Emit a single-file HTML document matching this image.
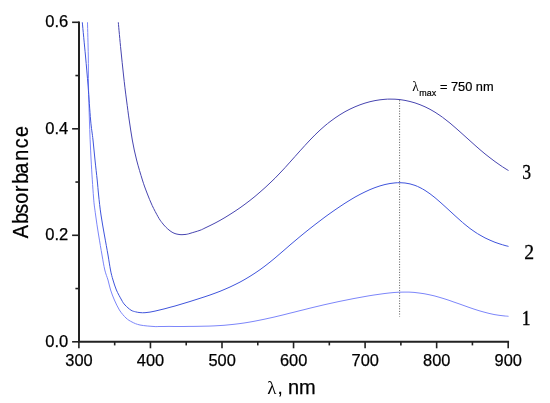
<!DOCTYPE html>
<html><head><meta charset="utf-8"><title>Absorbance</title>
<style>
html,body{margin:0;padding:0;background:#fff;}
svg{display:block;}
text{font-family:"Liberation Sans",sans-serif;fill:#000;}
.s{font-family:"Liberation Serif",serif;}
</style></head><body>
<svg width="550" height="403" viewBox="0 0 550 403">
<rect width="550" height="403" fill="#fff"/>
<g fill="none" stroke-width="1" stroke-linejoin="round">
<path stroke="#7c86fa" d="M87.5 22.3C87.6 27.9 88.1 45.4 88.3 56.0C88.5 66.6 88.3 75.3 88.5 86.0C88.7 96.7 89.0 107.7 89.4 120.0C89.8 132.3 90.4 147.2 91.1 160.0C91.8 172.8 92.8 187.8 93.5 197.0C94.2 206.2 94.8 208.7 95.6 215.0C96.4 221.3 97.5 228.3 98.6 235.0C99.7 241.7 101.0 249.2 102.0 255.0C103.0 260.8 103.8 265.8 104.8 270.0C105.8 274.2 107.0 276.7 108.0 280.0C109.0 283.3 109.5 286.7 110.6 290.0C111.7 293.3 112.9 296.7 114.4 300.0C115.9 303.3 117.5 307.0 119.4 310.0C121.3 313.0 123.9 316.0 126.0 318.0C128.1 320.0 129.7 320.8 132.0 322.0C134.3 323.2 136.3 324.2 140.0 325.0C143.7 325.8 150.8 326.3 154.0 326.5C157.2 326.8 157.3 326.5 159.0 326.5C160.7 326.5 162.3 326.5 164.0 326.5C165.7 326.4 167.3 326.4 169.0 326.4C170.7 326.4 172.3 326.5 174.0 326.5C175.7 326.5 177.3 326.5 179.0 326.5C180.7 326.5 182.3 326.5 184.0 326.5C185.7 326.5 187.3 326.5 189.0 326.4C190.7 326.4 192.3 326.4 194.0 326.4C195.7 326.4 197.3 326.4 199.0 326.3C200.7 326.3 202.3 326.3 204.0 326.2C205.7 326.2 207.3 326.1 209.0 326.1C210.7 326.0 212.3 326.0 214.0 325.9C215.7 325.8 217.3 325.7 219.0 325.6C220.7 325.5 222.3 325.4 224.0 325.3C225.7 325.1 227.3 325.0 229.0 324.8C230.7 324.7 232.3 324.5 234.0 324.3C235.7 324.1 237.3 323.9 239.0 323.7C240.7 323.5 242.3 323.3 244.0 323.0C245.7 322.8 247.3 322.5 249.0 322.2C250.7 321.9 252.3 321.6 254.0 321.3C255.7 321.0 257.3 320.7 259.0 320.3C260.7 320.0 262.3 319.7 264.0 319.3C265.7 318.9 267.3 318.6 269.0 318.2C270.7 317.8 272.3 317.4 274.0 317.1C275.7 316.7 277.3 316.3 279.0 315.9C280.7 315.5 282.3 315.1 284.0 314.7C285.7 314.2 287.3 313.8 289.0 313.4C290.7 313.0 292.3 312.6 294.0 312.2C295.7 311.7 297.3 311.3 299.0 310.9C300.7 310.5 302.3 310.1 304.0 309.7C305.7 309.2 307.3 308.8 309.0 308.4C310.7 308.0 312.3 307.6 314.0 307.2C315.7 306.8 317.3 306.4 319.0 306.0C320.7 305.6 322.3 305.2 324.0 304.8C325.7 304.4 327.3 304.1 329.0 303.7C330.7 303.3 332.3 302.9 334.0 302.6C335.7 302.2 337.3 301.8 339.0 301.5C340.7 301.1 342.3 300.8 344.0 300.5C345.7 300.1 347.3 299.8 349.0 299.5C350.7 299.1 352.3 298.8 354.0 298.5C355.7 298.2 357.3 297.9 359.0 297.6C360.7 297.3 362.3 297.0 364.0 296.7C365.7 296.4 367.3 296.1 369.0 295.8C370.7 295.6 372.3 295.3 374.0 295.0C375.7 294.8 377.3 294.5 379.0 294.3C380.7 294.0 382.3 293.8 384.0 293.6C385.7 293.3 387.3 293.1 389.0 293.0C390.7 292.8 392.3 292.6 394.0 292.5C395.7 292.4 397.3 292.3 399.0 292.2C400.7 292.1 402.3 292.1 404.0 292.1C405.7 292.1 407.3 292.1 409.0 292.1C410.7 292.2 412.3 292.3 414.0 292.4C415.7 292.6 417.3 292.8 419.0 293.0C420.7 293.2 422.3 293.4 424.0 293.7C425.7 294.0 427.3 294.3 429.0 294.7C430.7 295.0 432.3 295.4 434.0 295.8C435.7 296.2 437.3 296.7 439.0 297.2C440.7 297.6 442.3 298.1 444.0 298.7C445.7 299.2 447.3 299.8 449.0 300.3C450.7 300.9 452.3 301.5 454.0 302.1C455.7 302.6 457.3 303.2 459.0 303.8C460.7 304.4 462.3 305.0 464.0 305.6C465.7 306.2 467.3 306.8 469.0 307.4C470.7 308.0 472.3 308.6 474.0 309.1C475.7 309.7 477.3 310.2 479.0 310.7C480.7 311.2 482.3 311.7 484.0 312.1C485.7 312.6 487.3 313.0 489.0 313.4C490.7 313.8 492.3 314.1 494.0 314.5C495.7 314.8 497.3 315.1 499.0 315.3C500.7 315.6 502.4 315.8 504.0 315.9C505.6 316.1 507.8 316.2 508.5 316.3"/>
<path stroke="#3f54dc" d="M82.3 22.3C82.8 27.9 84.5 45.4 85.5 56.0C86.5 66.6 87.2 75.3 88.1 86.0C88.9 96.7 89.8 111.0 90.6 120.0C91.4 129.0 92.3 133.3 93.0 140.0C93.7 146.7 94.3 153.3 95.0 160.0C95.7 166.7 96.6 174.2 97.2 180.0C97.8 185.8 98.0 189.2 98.6 195.0C99.2 200.8 100.0 208.3 101.0 215.0C102.0 221.7 103.2 228.3 104.4 235.0C105.6 241.7 107.0 249.2 108.0 255.0C109.0 260.8 109.7 265.8 110.5 270.0C111.3 274.2 112.0 276.7 113.0 280.0C114.0 283.3 115.0 286.7 116.4 290.0C117.8 293.3 120.2 297.5 121.6 300.0C123.0 302.5 123.4 303.3 125.0 305.0C126.6 306.7 129.2 309.1 131.0 310.2C132.8 311.3 134.0 311.4 135.5 311.8C137.0 312.2 138.4 312.5 140.0 312.6C141.6 312.8 143.3 312.8 145.0 312.7C146.7 312.6 148.3 312.4 150.0 312.1C151.7 311.8 153.3 311.4 155.0 311.1C156.7 310.7 158.3 310.3 160.0 309.9C161.7 309.5 163.3 309.1 165.0 308.7C166.7 308.2 168.3 307.8 170.0 307.3C171.7 306.9 173.3 306.4 175.0 306.0C176.7 305.5 178.3 305.0 180.0 304.5C181.7 304.0 183.3 303.5 185.0 303.0C186.7 302.5 188.3 302.0 190.0 301.5C191.7 301.0 193.3 300.5 195.0 299.9C196.7 299.4 198.3 298.9 200.0 298.3C201.7 297.8 203.3 297.3 205.0 296.7C206.7 296.1 208.3 295.6 210.0 295.0C211.7 294.4 213.3 293.8 215.0 293.2C216.7 292.6 218.3 291.9 220.0 291.3C221.7 290.6 223.3 289.9 225.0 289.2C226.7 288.5 228.3 287.8 230.0 287.0C231.7 286.2 233.3 285.4 235.0 284.6C236.7 283.8 238.3 282.9 240.0 282.1C241.7 281.2 243.3 280.2 245.0 279.3C246.7 278.3 248.3 277.3 250.0 276.3C251.7 275.3 253.3 274.2 255.0 273.1C256.7 272.0 258.3 270.8 260.0 269.7C261.7 268.5 263.3 267.3 265.0 266.0C266.7 264.7 268.3 263.4 270.0 262.1C271.7 260.8 273.3 259.4 275.0 258.0C276.7 256.6 278.3 255.2 280.0 253.7C281.7 252.3 283.3 250.8 285.0 249.4C286.7 247.9 288.3 246.5 290.0 245.0C291.7 243.6 293.3 242.2 295.0 240.8C296.7 239.4 298.3 238.0 300.0 236.6C301.7 235.2 303.3 233.9 305.0 232.5C306.7 231.2 308.3 229.8 310.0 228.5C311.7 227.2 313.3 225.9 315.0 224.6C316.7 223.3 318.3 222.0 320.0 220.8C321.7 219.5 323.3 218.3 325.0 217.0C326.7 215.8 328.3 214.6 330.0 213.4C331.7 212.2 333.3 211.0 335.0 209.9C336.7 208.7 338.3 207.6 340.0 206.5C341.7 205.3 343.3 204.2 345.0 203.2C346.7 202.1 348.3 201.1 350.0 200.1C351.7 199.1 353.3 198.1 355.0 197.1C356.7 196.2 358.3 195.3 360.0 194.4C361.7 193.5 363.3 192.7 365.0 191.9C366.7 191.1 368.3 190.3 370.0 189.6C371.7 188.9 373.3 188.3 375.0 187.6C376.7 187.0 378.3 186.5 380.0 185.9C381.7 185.4 383.3 184.9 385.0 184.5C386.7 184.1 388.3 183.8 390.0 183.5C391.7 183.2 393.3 183.0 395.0 182.9C396.7 182.7 398.3 182.7 400.0 182.7C401.7 182.7 403.3 182.8 405.0 183.0C406.7 183.3 408.3 183.5 410.0 183.9C411.7 184.3 413.3 184.8 415.0 185.4C416.7 186.0 418.3 186.8 420.0 187.6C421.7 188.4 423.3 189.4 425.0 190.4C426.7 191.5 428.3 192.6 430.0 193.8C431.7 195.1 433.3 196.4 435.0 197.7C436.7 199.1 438.3 200.5 440.0 202.0C441.7 203.4 443.3 205.0 445.0 206.5C446.7 208.0 448.3 209.6 450.0 211.1C451.7 212.6 453.3 214.2 455.0 215.7C456.7 217.2 458.3 218.8 460.0 220.2C461.7 221.7 463.3 223.2 465.0 224.5C466.7 225.9 468.3 227.2 470.0 228.5C471.7 229.7 473.3 230.9 475.0 232.0C476.7 233.1 478.3 234.2 480.0 235.1C481.7 236.1 483.3 237.0 485.0 237.9C486.7 238.7 488.3 239.5 490.0 240.2C491.7 241.0 493.3 241.6 495.0 242.3C496.7 242.9 498.3 243.5 500.0 244.0C501.7 244.5 503.6 245.1 505.0 245.5C506.4 245.9 507.9 246.2 508.5 246.4"/>
<path stroke="#4745b0" d="M118.3 22.3C118.7 26.9 120.0 41.2 120.9 50.0C121.8 58.8 122.6 66.7 123.5 75.0C124.4 83.3 125.5 92.5 126.5 100.0C127.5 107.5 128.2 113.3 129.2 120.0C130.2 126.7 131.1 133.3 132.3 140.0C133.5 146.7 134.9 153.3 136.6 160.0C138.3 166.7 140.7 174.5 142.4 180.0C144.1 185.5 145.4 188.8 147.0 193.0C148.6 197.2 150.4 201.6 152.2 205.5C154.0 209.4 156.4 213.8 158.0 216.7C159.6 219.6 160.7 221.0 162.0 222.7C163.3 224.4 164.3 225.6 165.6 226.9C166.9 228.2 168.6 229.8 170.0 230.8C171.4 231.9 172.7 232.6 174.0 233.2C175.3 233.8 176.7 234.1 178.0 234.3C179.3 234.6 180.7 234.7 182.0 234.7C183.3 234.7 184.7 234.6 186.0 234.4C187.3 234.2 187.7 234.1 190.0 233.4C192.3 232.7 197.5 231.2 200.0 230.3C202.5 229.4 203.3 228.8 205.0 228.0C206.7 227.3 208.3 226.5 210.0 225.6C211.7 224.8 213.3 224.0 215.0 223.1C216.7 222.2 218.3 221.3 220.0 220.4C221.7 219.4 223.3 218.5 225.0 217.5C226.7 216.5 228.3 215.5 230.0 214.4C231.7 213.4 233.3 212.3 235.0 211.2C236.7 210.1 238.3 209.0 240.0 207.8C241.7 206.6 243.3 205.4 245.0 204.2C246.7 202.9 248.3 201.7 250.0 200.4C251.7 199.1 253.3 197.7 255.0 196.4C256.7 195.0 258.3 193.6 260.0 192.1C261.7 190.7 263.3 189.2 265.0 187.7C266.7 186.2 268.3 184.6 270.0 183.0C271.7 181.5 273.3 179.8 275.0 178.2C276.7 176.5 278.3 174.8 280.0 173.0C281.7 171.3 283.3 169.5 285.0 167.7C286.7 165.9 288.3 164.0 290.0 162.1C291.7 160.3 293.3 158.4 295.0 156.5C296.7 154.7 298.3 152.8 300.0 150.9C301.7 149.1 303.3 147.2 305.0 145.4C306.7 143.6 308.3 141.8 310.0 140.0C311.7 138.3 313.3 136.6 315.0 134.9C316.7 133.3 318.3 131.7 320.0 130.1C321.7 128.6 323.3 127.1 325.0 125.7C326.7 124.3 328.3 122.9 330.0 121.7C331.7 120.4 333.3 119.2 335.0 118.0C336.7 116.8 338.3 115.7 340.0 114.7C341.7 113.7 343.3 112.7 345.0 111.7C346.7 110.8 348.3 109.9 350.0 109.1C351.7 108.3 353.3 107.5 355.0 106.8C356.7 106.1 358.3 105.4 360.0 104.8C361.7 104.2 363.3 103.6 365.0 103.1C366.7 102.6 368.3 102.1 370.0 101.7C371.7 101.3 373.3 100.9 375.0 100.6C376.7 100.3 378.3 100.0 380.0 99.8C381.7 99.6 383.3 99.4 385.0 99.3C386.7 99.1 388.3 99.1 390.0 99.1C391.7 99.1 393.3 99.1 395.0 99.2C396.7 99.3 398.3 99.4 400.0 99.6C401.7 99.8 403.3 100.1 405.0 100.4C406.7 100.7 408.3 101.1 410.0 101.5C411.7 101.9 413.3 102.4 415.0 102.9C416.7 103.4 418.3 104.0 420.0 104.7C421.7 105.3 423.3 106.1 425.0 106.8C426.7 107.6 428.3 108.4 430.0 109.3C431.7 110.2 433.3 111.2 435.0 112.2C436.7 113.2 438.3 114.3 440.0 115.5C441.7 116.6 443.3 117.9 445.0 119.2C446.7 120.4 448.3 121.8 450.0 123.1C451.7 124.5 453.3 125.9 455.0 127.4C456.7 128.8 458.3 130.3 460.0 131.8C461.7 133.3 463.3 134.8 465.0 136.3C466.7 137.8 468.3 139.3 470.0 140.8C471.7 142.3 473.3 143.8 475.0 145.3C476.7 146.8 478.3 148.2 480.0 149.7C481.7 151.1 483.3 152.5 485.0 153.9C486.7 155.2 488.3 156.6 490.0 157.8C491.7 159.1 493.3 160.4 495.0 161.6C496.7 162.8 498.3 164.0 500.0 165.1C501.7 166.3 503.6 167.5 505.0 168.4C506.4 169.3 507.9 170.2 508.5 170.5"/>
</g>
<line x1="399.6" y1="100.3" x2="399.6" y2="316.6" stroke="#555" stroke-width="1" stroke-dasharray="1 1.6"/>
<g stroke="#222" stroke-width="1.6"><line x1="78.90" y1="341.8" x2="78.90" y2="348.3"/><line x1="114.68" y1="341.8" x2="114.68" y2="345.4"/><line x1="150.45" y1="341.8" x2="150.45" y2="348.3"/><line x1="186.22" y1="341.8" x2="186.22" y2="345.4"/><line x1="222.00" y1="341.8" x2="222.00" y2="348.3"/><line x1="257.77" y1="341.8" x2="257.77" y2="345.4"/><line x1="293.55" y1="341.8" x2="293.55" y2="348.3"/><line x1="329.32" y1="341.8" x2="329.32" y2="345.4"/><line x1="365.10" y1="341.8" x2="365.10" y2="348.3"/><line x1="400.88" y1="341.8" x2="400.88" y2="345.4"/><line x1="436.65" y1="341.8" x2="436.65" y2="348.3"/><line x1="472.42" y1="341.8" x2="472.42" y2="345.4"/><line x1="508.20" y1="341.8" x2="508.20" y2="348.3"/><line x1="78.9" y1="341.80" x2="72.1" y2="341.80"/><line x1="78.9" y1="288.55" x2="75.4" y2="288.55"/><line x1="78.9" y1="235.30" x2="72.1" y2="235.30"/><line x1="78.9" y1="182.05" x2="75.4" y2="182.05"/><line x1="78.9" y1="128.80" x2="72.1" y2="128.80"/><line x1="78.9" y1="75.55" x2="75.4" y2="75.55"/><line x1="78.9" y1="22.30" x2="72.1" y2="22.30"/></g>
<path d="M79 21.5V341.8H509.1" fill="none" stroke="#222" stroke-width="2"/>
<g font-size="17.1" stroke="#000" stroke-width="0.25"><text x="79.0" y="366.2" text-anchor="middle" textLength="27.4" lengthAdjust="spacingAndGlyphs">300</text><text x="150.5" y="366.2" text-anchor="middle" textLength="27.4" lengthAdjust="spacingAndGlyphs">400</text><text x="222.1" y="366.2" text-anchor="middle" textLength="27.4" lengthAdjust="spacingAndGlyphs">500</text><text x="293.6" y="366.2" text-anchor="middle" textLength="27.4" lengthAdjust="spacingAndGlyphs">600</text><text x="365.2" y="366.2" text-anchor="middle" textLength="27.4" lengthAdjust="spacingAndGlyphs">700</text><text x="436.8" y="366.2" text-anchor="middle" textLength="27.4" lengthAdjust="spacingAndGlyphs">800</text><text x="508.3" y="366.2" text-anchor="middle" textLength="27.4" lengthAdjust="spacingAndGlyphs">900</text><text x="68.3" y="346.8" text-anchor="end" textLength="23" lengthAdjust="spacingAndGlyphs">0.0</text><text x="68.3" y="240.3" text-anchor="end" textLength="23" lengthAdjust="spacingAndGlyphs">0.2</text><text x="68.3" y="133.8" text-anchor="end" textLength="23" lengthAdjust="spacingAndGlyphs">0.4</text><text x="68.3" y="27.3" text-anchor="end" textLength="23" lengthAdjust="spacingAndGlyphs">0.6</text></g>
<text transform="translate(27.8,238.2) rotate(-90) scale(0.92,1)" font-size="21.5" stroke="#000" stroke-width="0.25" x="-0.16 15.63 26.51 37.45 50.29 59.11 70.20 84.06 97.66 109.97">Absorbance</text>
<text class="s" x="267.3" y="393.5" font-size="18.9">λ</text><text x="277.2" y="393.5" font-size="20.8">,</text><text x="287.9" y="393.5" font-size="20.8" stroke="#000" stroke-width="0.25" textLength="27.8" lengthAdjust="spacingAndGlyphs">nm</text>
<g stroke="#000" stroke-width="0.2"><text class="s" x="412.2" y="90.5" font-size="13.6" stroke="none">λ</text><text x="419.3" y="95.7" font-size="9.3" textLength="16.9" lengthAdjust="spacingAndGlyphs">max</text><text x="439.9" y="90.5" font-size="12.8">= 750 nm</text></g>
<g class="s" font-size="21.5" stroke="#000" stroke-width="0.3"><text class="s" transform="translate(522.2,179.2) scale(.82,1)">3</text><text class="s" transform="translate(524.3,258.9) scale(.92,1)">2</text><text class="s" stroke-width="0.55" transform="translate(521.9,325) scale(.78,1)">1</text></g>
</svg>
</body></html>
